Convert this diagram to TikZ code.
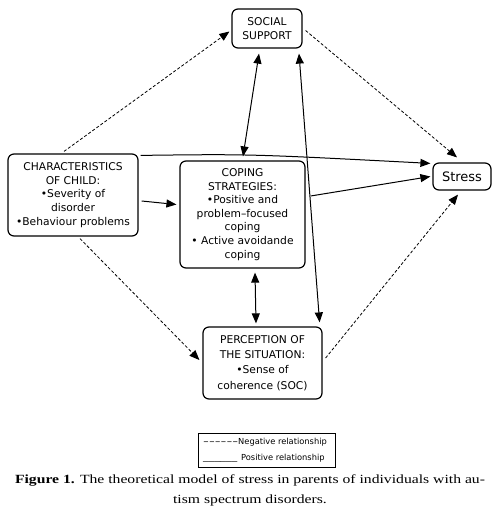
\documentclass[tikz,border=0pt]{standalone}
\usepackage{fontspec}
\usepackage{graphicx}
\setmainfont{DejaVu Sans}
\newfontfamily\capfont{Liberation Serif}
\usetikzlibrary{arrows.meta,calc}
\newlength\capw
\tikzset{
  box/.style={draw, line width=1.2pt, rounded corners=6pt, align=center, inner sep=0pt,
    font=\fontsize{10.7}{13.6}\selectfont},
  posarrow/.style={line width=1pt, -{Triangle[length=10pt,width=8pt]}},
  botharrow/.style={line width=1pt, {Triangle[length=10pt,width=8pt]}-{Triangle[length=10pt,width=8pt]}},
  negarrow/.style={line width=0.8pt, dash pattern=on 3pt off 2pt, -{Triangle[length=10pt,width=8pt]}},
  legtxt/.style={anchor=west, inner sep=0pt, font=\fontsize{8.3}{10}\selectfont},
  captxt/.style={inner sep=0pt, font=\capfont\fontsize{12.5}{15}\selectfont},
}
\begin{document}
\settowidth\capw{\capfont\fontsize{12.5}{15}\selectfont\textbf{Figure 1.} The theoretical model of stress in parents of individuals with au-}
\begin{tikzpicture}[x=1pt,y=-1pt]
\useasboundingbox (0,0) rectangle (500,516);
\node[box, minimum width=70pt, minimum height=39pt] (ss) at (267,28.5) {SOCIAL\\SUPPORT};
\node[box, minimum width=130pt, minimum height=82pt] (char) at (73,195)
  {CHARACTERISTICS\\OF CHILD:\\•Severity of\\disorder\\•Behaviour problems};
\node[box, minimum width=125pt, minimum height=107pt] (cope) at (242.5,214.5)
  {COPING\\STRATEGIES:\\•Positive and\\problem–focused\\coping\\• Active avoidande\\coping};
\node[box, minimum width=58pt, minimum height=27pt, font=\fontsize{13}{15}\selectfont] (stress) at (462,176.5) {Stress};
\node[box, minimum width=119pt, minimum height=72pt, font=\fontsize{10.7}{15.2}\selectfont] (perc) at (262.5,363)
  {PERCEPTION OF\\THE SITUATION:\\•Sense of\\coherence (SOC)};
% connectors
\draw[negarrow] ($(char.north)+(-9,-2)$) -- ($(ss.west)+(-2,3)$);
\draw[negarrow] ($(ss.east)+(3,2)$) -- ($(stress.north)+(-5,-5)$);
\draw[posarrow] ($(char.north east)+(2,2)$) .. controls (250,154) .. ($(stress.north west)+(-2,1)$);
\draw[posarrow] ($(cope.east)+(5,-18.5)$) -- ($(stress.west)+(-2,0)$);
\draw[posarrow] ($(char.east)+(3,6)$) -- ($(cope.west)+(-3,-10)$);
\draw[botharrow] ($(ss.south)+(-8,5)$) -- ($(cope.north)+(0.5,-4)$);
\draw[botharrow] ($(ss.south)+(32,5)$) -- ($(perc.north east)+(-3,-4)$);
\draw[botharrow] ($(cope.south)+(12.5,4)$) -- ($(perc.north)+(-6.5,-3)$);
\draw[negarrow] ($(char.south)+(7,2)$) -- ($(perc.west)+(-3,-3)$);
\draw[negarrow] ($(perc.east)+(3,-5)$) -- ($(stress.south)+(-4,4)$);
% legend
\node[draw, line width=0.8pt, minimum width=137pt, minimum height=34pt, inner sep=0pt] (legend) at (266.5,450) {};
\node[legtxt] (leg1) at (203,442) {\resizebox{35pt}{\height}{-{}-{}-{}-{}-{}-}Negative relationship};
\node[legtxt] (leg2) at (203,458) {\resizebox*{34pt}{\totalheight}{\_\_\_\_\_\_}\hspace{4pt}Positive relationship};
% caption
\pgfmathsetmacro{\capsx}{470/\capw}
\node[captxt] (cap1) at (250,480) {\scalebox{\capsx}[1]{\textbf{Figure 1.} The theoretical model of stress in parents of individuals with au-}};
\node[captxt] (cap2) at (250,500) {\scalebox{\capsx}[1]{tism spectrum disorders.}};
\end{tikzpicture}
\end{document}
